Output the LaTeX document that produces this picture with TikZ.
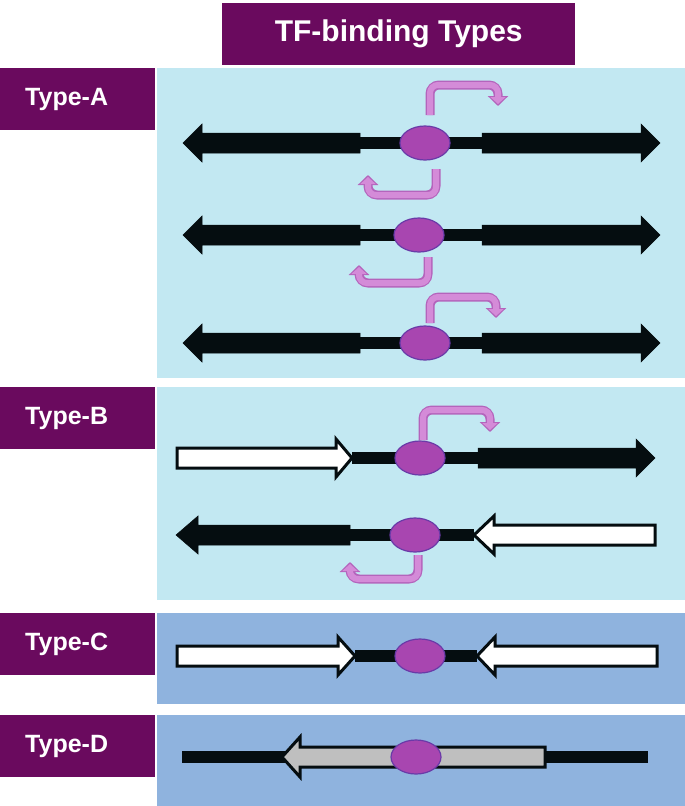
\documentclass[tikz,border=0pt]{standalone}
\usepackage{fontspec}
\setmainfont{Liberation Sans}
\usetikzlibrary{arrows.meta}
\definecolor{purp}{HTML}{6A0A5E}
\definecolor{lblue}{HTML}{C2E8F2}
\definecolor{dblue}{HTML}{8FB3DE}
\definecolor{tf}{HTML}{A846B0}
\definecolor{tfe}{HTML}{6A3AA8}
\definecolor{hook}{HTML}{D48BD8}
\definecolor{hooke}{HTML}{B464BC}
\definecolor{gblack}{HTML}{050D10}
\newcommand\garr[6]{% tip, base, end, y, fill, linewidth
  \filldraw[fill=#5,draw=gblack,line width=#6,line join=miter]
   (#3,#4-10) -- (#2,#4-10) -- (#2,#4-19) -- (#1,#4) -- (#2,#4+19) -- (#2,#4+10) -- (#3,#4+10) -- cycle;}
\begin{document}
\begin{tikzpicture}[x=1pt,y=-1pt,
  lab/.style={fill=purp,text=white,font=\bfseries\fontsize{25}{28}\selectfont,inner sep=0,anchor=north west,minimum height=62,minimum width=155,align=left},
  tfn/.style={ellipse,fill=tf,draw=tfe,line width=1.2pt,minimum width=50,minimum height=34,inner sep=0},
  thin/.style={draw=gblack,line width=12},
  hk/.style={draw=hooke,line width=9,rounded corners=9,-{Triangle[width=20,length=10]}},
  hki/.style={draw=hook,line width=6,rounded corners=8,shorten >=2,-{Triangle[width=15,length=7]}}]
\usetikzlibrary{shapes.geometric}
\useasboundingbox (0,0) rectangle (685,806);
\fill[lblue] (157,68) rectangle (685,378);
\fill[lblue] (157,387) rectangle (685,600);
\fill[dblue] (157,613) rectangle (685,704);
\fill[dblue] (157,715) rectangle (685,806);
\node[fill=purp,text=white,font=\bfseries\fontsize{30}{34}\selectfont,minimum width=353,minimum height=62,inner sep=0,anchor=north west] (title) at (222,3) {TF-binding Types};
\node[lab,text width=145,minimum width=155] (la) at (0,68) {\hspace*{20pt}Type-A};
\node[lab,text width=145] (lb) at (0,387) {\hspace*{20pt}Type-B};
\node[lab,text width=145] (lc) at (0,613) {\hspace*{20pt}Type-C};
\node[lab,text width=145] (ld) at (0,715) {\hspace*{20pt}Type-D};
% Type A
\foreach \y/\x in {143/425,235/419,343/425}{
  \draw[thin] (360,\y) -- (482,\y);
  \garr{183}{202}{360}{\y}{gblack}{0.5pt}
  \garr{660}{641}{482}{\y}{gblack}{0.5pt}
}
\node[tfn] (a1) at (425,143) {};
\node[tfn] (a2) at (419,235) {};
\node[tfn] (a3) at (425,343) {};
\coordinate (a1u) at (430,115); \coordinate (a1ue) at (498,106);
\coordinate (a1d) at (436,169); \coordinate (a1de) at (368,175);
\coordinate (a2d) at (428,257); \coordinate (a2de) at (359,265);
\coordinate (a3u) at (430,323); \coordinate (a3ue) at (496,318);
\foreach \s/\e/\m in {a1u/a1ue/-83,a3u/a3ue/-297}{}
\foreach \st in {hk,hki}{
  \draw[\st] (a1u) -- (430,85) -- (498,85) -- (a1ue);
  \draw[\st] (a3u) -- (430,297) -- (496,297) -- (a3ue);
  \draw[\st] (a1d) -- (436,195) -- (368,195) -- (a1de);
  \draw[\st] (a2d) -- (428,283) -- (359,283) -- (a2de);
}
% Type B
\draw[thin] (352,458) -- (478,458);
\garr{352}{336}{177}{458}{white}{3pt}
\garr{655}{636}{478}{458}{gblack}{0.5pt}
\node[tfn] (b1) at (420,458) {};
\draw[thin] (350,535) -- (474,535);
\garr{176}{198}{350}{535}{gblack}{0.5pt}
\garr{474}{494}{655}{535}{white}{3pt}
\node[tfn] (b2) at (415,535) {};
\coordinate (b1u) at (423,440); \coordinate (b1ue) at (490,432);
\coordinate (b2d) at (418,555); \coordinate (b2de) at (350,562);
\foreach \st in {hk,hki}{
  \draw[\st] (b1u) -- (423,410) -- (490,410) -- (b1ue);
  \draw[\st] (b2d) -- (418,579) -- (350,579) -- (b2de);
}
% Type C
\draw[thin] (355,656) -- (477,656);
\garr{355}{338}{177}{656}{white}{3pt}
\garr{477}{495}{657}{656}{white}{3pt}
\node[tfn] (c1) at (420,656) {};
% Type D
\draw[thin] (182,757) -- (648,757);
\filldraw[fill=gray!50,draw=gblack,line width=3pt]
  (545,747) -- (300,747) -- (300,737) -- (282,757) -- (300,777) -- (300,767) -- (545,767) -- cycle;
\node[tfn] (d1) at (416,757) {};
\end{tikzpicture}
\end{document}
